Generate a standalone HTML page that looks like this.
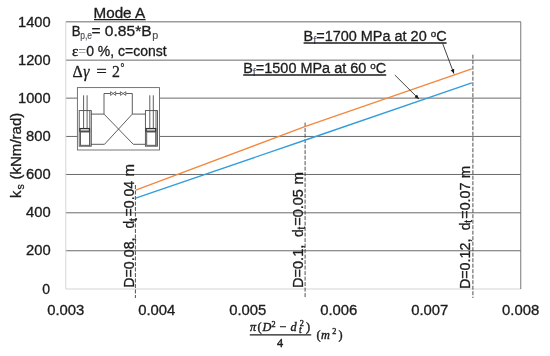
<!DOCTYPE html>
<html><head><meta charset="utf-8"><title>chart</title>
<style>
html,body{margin:0;padding:0;background:#fff;}
svg{display:block;}
text{font-family:"Liberation Sans",sans-serif;fill:#1c1c1c;stroke:#1c1c1c;stroke-width:0.3px;}
.m{font-family:"Liberation Serif",serif;font-style:italic;stroke-width:0.4px;}
.mr{font-family:"Liberation Serif",serif;font-style:normal;stroke-width:0.4px;}
</style></head><body>
<svg width="550" height="356" viewBox="0 0 550 356">
<rect x="0" y="0" width="550" height="356" fill="#ffffff"/>
<line x1="65.8" y1="21.84" x2="520.8" y2="21.84" stroke="#6a6a6a" stroke-width="1"/>
<line x1="65.8" y1="60.15" x2="520.8" y2="60.15" stroke="#6a6a6a" stroke-width="1"/>
<line x1="65.8" y1="98.13" x2="520.8" y2="98.13" stroke="#6a6a6a" stroke-width="1"/>
<line x1="65.8" y1="136.45" x2="520.8" y2="136.45" stroke="#6a6a6a" stroke-width="1"/>
<line x1="65.8" y1="174.48" x2="520.8" y2="174.48" stroke="#6a6a6a" stroke-width="1"/>
<line x1="65.8" y1="212.80" x2="520.8" y2="212.80" stroke="#6a6a6a" stroke-width="1"/>
<line x1="65.8" y1="250.76" x2="520.8" y2="250.76" stroke="#6a6a6a" stroke-width="1"/>
<line x1="65.8" y1="289.00" x2="520.8" y2="289.00" stroke="#d4d4d4" stroke-width="1"/>
<line x1="65.80" y1="21.85" x2="65.80" y2="289.00" stroke="#d6d6d6" stroke-width="1"/>
<line x1="520.75" y1="21.85" x2="520.75" y2="289.00" stroke="#787878" stroke-width="1"/>
<text x="18.0" y="26.55" font-size="14" textLength="32.6" lengthAdjust="spacingAndGlyphs">1400</text>
<text x="18.0" y="64.69" font-size="14" textLength="32.6" lengthAdjust="spacingAndGlyphs">1200</text>
<text x="18.0" y="102.83" font-size="14" textLength="32.6" lengthAdjust="spacingAndGlyphs">1000</text>
<text x="26.0" y="140.97" font-size="14" textLength="24.6" lengthAdjust="spacingAndGlyphs">800</text>
<text x="26.0" y="179.11" font-size="14" textLength="24.6" lengthAdjust="spacingAndGlyphs">600</text>
<text x="26.0" y="217.25" font-size="14" textLength="24.6" lengthAdjust="spacingAndGlyphs">400</text>
<text x="26.0" y="255.39" font-size="14" textLength="24.6" lengthAdjust="spacingAndGlyphs">200</text>
<text x="42.2" y="293.53" font-size="14">0</text>
<text x="47.2" y="314.6" font-size="14" textLength="37.2" lengthAdjust="spacingAndGlyphs">0.003</text>
<text x="138.2" y="314.6" font-size="14" textLength="37.2" lengthAdjust="spacingAndGlyphs">0.004</text>
<text x="229.2" y="314.6" font-size="14" textLength="37.2" lengthAdjust="spacingAndGlyphs">0.005</text>
<text x="320.2" y="314.6" font-size="14" textLength="37.2" lengthAdjust="spacingAndGlyphs">0.006</text>
<text x="411.2" y="314.6" font-size="14" textLength="37.2" lengthAdjust="spacingAndGlyphs">0.007</text>
<text x="502.1" y="314.6" font-size="14" textLength="37.2" lengthAdjust="spacingAndGlyphs">0.008</text>
<line x1="135.4" y1="185.0" x2="135.4" y2="298" stroke="#3c3c3c" stroke-width="0.9" stroke-dasharray="4 1.5"/>
<line x1="305.1" y1="122.6" x2="305.1" y2="298" stroke="#3c3c3c" stroke-width="0.9" stroke-dasharray="4 1.5"/>
<line x1="472.9" y1="54.7" x2="472.9" y2="298" stroke="#3c3c3c" stroke-width="0.9" stroke-dasharray="4 1.5"/>
<polyline points="135.7,190.1 305.5,126.4 471.8,68.8" fill="none" stroke="#f4873c" stroke-width="1.35"/>
<polyline points="135.7,198.1 305.5,140.0 471.8,82.8" fill="none" stroke="#329ddc" stroke-width="1.35"/>
<g transform="translate(134.1 287.7) rotate(-90)"><text x="0.0" y="0.0" font-size="14" textLength="50.2" lengthAdjust="spacingAndGlyphs">D=0.08,</text><text x="59.1" y="0.0" font-size="14">d</text><text x="66.7" y="2.4" font-size="10">t</text><text x="71.3" y="0.0" font-size="14" textLength="35.6" lengthAdjust="spacingAndGlyphs">=0.04</text><text x="111.1" y="0.0" font-size="14" textLength="12.6" lengthAdjust="spacingAndGlyphs">m</text></g>
<g transform="translate(302.8 288.0) rotate(-90)"><text x="0.0" y="0.0" font-size="14" textLength="43.3" lengthAdjust="spacingAndGlyphs">D=0.1,</text><text x="51.0" y="0.0" font-size="14">d</text><text x="58.6" y="2.4" font-size="10">t</text><text x="62.3" y="0.0" font-size="14" textLength="36.6" lengthAdjust="spacingAndGlyphs">=0.05</text><text x="103.4" y="0.0" font-size="14" textLength="12.6" lengthAdjust="spacingAndGlyphs">m</text></g>
<g transform="translate(470.0 289.1) rotate(-90)"><text x="0.0" y="0.0" font-size="14" textLength="50.6" lengthAdjust="spacingAndGlyphs">D=0.12,</text><text x="58.8" y="0.0" font-size="14">d</text><text x="66.4" y="2.4" font-size="10">t</text><text x="70.4" y="0.0" font-size="14" textLength="36.2" lengthAdjust="spacingAndGlyphs">=0.07</text><text x="110.8" y="0.0" font-size="14" textLength="12.6" lengthAdjust="spacingAndGlyphs">m</text></g>
<g transform="translate(21.2 198.0) rotate(-90)"><text x="0.0" y="0.0" font-size="14" textLength="7.4" lengthAdjust="spacingAndGlyphs">k</text><text x="8.6" y="2.4" font-size="10.5">s</text><text x="18.4" y="0.0" font-size="14" textLength="67.0" lengthAdjust="spacingAndGlyphs">(kNm/rad)</text></g>
<text x="93.5" y="18.3" font-size="14" textLength="51.6" lengthAdjust="spacingAndGlyphs">Mode A</text>
<line x1="94" y1="19.6" x2="145.6" y2="19.6" stroke="#1c1c1c" stroke-width="1.1"/>
<text x="71.8" y="36.4" font-size="14" textLength="8.8" lengthAdjust="spacingAndGlyphs">B</text><text x="80.2" y="39" font-size="10" textLength="11.8" lengthAdjust="spacingAndGlyphs" style="fill:#474c54;stroke-width:0.15px;stroke:#474c54">p,e</text><text x="91.4" y="36.4" font-size="14" textLength="60.2" lengthAdjust="spacingAndGlyphs">= 0.85*B</text><text x="152.2" y="39" font-size="10" textLength="6" lengthAdjust="spacingAndGlyphs" style="fill:#474c54;stroke-width:0.15px;stroke:#474c54">p</text>
<text x="72" y="56" font-size="14" textLength="94.6" lengthAdjust="spacingAndGlyphs"><tspan class="mr" font-size="15">ε</tspan><tspan class="mr" style="fill:#6a6a6a;stroke:none">=</tspan>0 %, c=const</text>
<text x="72.6" y="77.1" font-size="15.8" class="mr" style="stroke-width:0.3px">Δ</text><text x="83.2" y="77.1" font-size="15.8" class="m" style="stroke-width:0.3px">γ</text><text x="96.2" y="77.1" font-size="15.8" class="mr" textLength="10.6" lengthAdjust="spacingAndGlyphs" style="stroke-width:0.3px">=</text><text x="112" y="77.1" font-size="15.8" class="mr" style="stroke-width:0.3px">2</text><text x="120.6" y="70.6" font-size="9.5" class="mr" style="stroke-width:0.3px">°</text>
<text x="303.6" y="40.5" font-size="14" textLength="143.0" lengthAdjust="spacingAndGlyphs">B<tspan font-size="10.5" dy="3" style="fill:#566170;stroke:#566170;stroke-width:0.15px">f</tspan><tspan dy="-3">=1700 MPa at 20 <tspan font-size="9.5" dy="-4">o</tspan><tspan dy="4">C</tspan></tspan></text>
<line x1="303.6" y1="43.0" x2="446.6" y2="43.0" stroke="#1c1c1c" stroke-width="1.3"/>
<text x="243.2" y="72.5" font-size="14" textLength="143.0" lengthAdjust="spacingAndGlyphs">B<tspan font-size="10.5" dy="3" style="fill:#566170;stroke:#566170;stroke-width:0.15px">f</tspan><tspan dy="-3">=1500 MPa at 60 <tspan font-size="9.5" dy="-4">o</tspan><tspan dy="4">C</tspan></tspan></text>
<line x1="243.2" y1="75.0" x2="386.2" y2="75.0" stroke="#1c1c1c" stroke-width="1.3"/>
<defs><marker id="ah" viewBox="0 0 10 10" refX="9.5" refY="5" markerUnits="userSpaceOnUse" markerWidth="4.6" markerHeight="4.6" orient="auto"><path d="M0,0.8 L10,5 L0,9.2 z" fill="#1c1c1c"/></marker></defs>
<line x1="442.6" y1="43.4" x2="453.9" y2="73.5" stroke="#222" stroke-width="0.85" marker-end="url(#ah)"/>
<line x1="394.8" y1="75" x2="418.8" y2="98.9" stroke="#222" stroke-width="0.85" marker-end="url(#ah)"/>
<text x="249.9" y="331.3" font-size="12.3" class="m">π</text><text x="257.4" y="331.0" font-size="12.3" class="mr">(</text><text x="262.6" y="331.3" font-size="12.3" class="m">D</text><text x="271.4" y="326.5" font-size="8.2" class="mr">2</text><text x="279.8" y="331.3" font-size="12.3" class="mr">−</text><text x="290.4" y="331.3" font-size="12.3" class="m">d</text><text x="299.8" y="325.6" font-size="8.2" class="mr">2</text><text x="299.0" y="332.8" font-size="9.4" class="m">t</text><text x="306.0" y="331.0" font-size="12.3" class="mr">)</text>
<line x1="249.8" y1="334.9" x2="311.2" y2="334.9" stroke="#1c1c1c" stroke-width="1.1"/>
<text x="276.9" y="347.3" font-size="12.3" class="mr">4</text><text x="316.6" y="339.0" font-size="12.3" class="mr">(</text><text x="321.0" y="339.0" font-size="12.3" class="m">m</text><text x="332.2" y="334.3" font-size="8.2" class="mr">2</text><text x="338.6" y="339.0" font-size="12.3" class="mr">)</text>
<g id="inset" fill="none" stroke="#4c4c4c" stroke-width="0.9">
<rect x="77.4" y="87.6" width="82.1" height="62.4" fill="#fff" stroke="#666"/>
<polyline points="91,114.1 104,114.1 133.3,144.3 145.3,144.3"/>
<polyline points="145.3,114.1 132.3,114.1 104.5,144.3 91,144.3"/>
<polyline points="104,114.1 104,93.5 110.4,93.5"/>
<polyline points="132.3,114.1 132.3,93.5 126,93.5"/>
<line x1="115.8" y1="93.5" x2="120.2" y2="93.5"/>
<path d="M110.6,91.7 L110.6,95.4 L115.7,91.7 L115.7,95.4 Z" stroke-width="0.8"/>
<path d="M120.4,91.7 L120.4,95.4 L125.8,91.7 L125.8,95.4 Z" stroke-width="0.8"/>
<rect x="79.2" y="110.6" width="12.1" height="35.6"/>
<line x1="89.8" y1="110.6" x2="89.8" y2="146.2"/>
<line x1="83.6" y1="95.3" x2="83.6" y2="128"/>
<line x1="87.1" y1="95.3" x2="87.1" y2="128"/>
<rect x="79.9" y="128.6" width="9.6" height="2.6" stroke="#333" stroke-width="1.3"/>
<rect x="80.5" y="132" width="9.2" height="13.3"/>
<rect x="145.4" y="110.6" width="12.1" height="35.6"/>
<line x1="156.0" y1="110.6" x2="156.0" y2="146.2"/>
<line x1="149.8" y1="95.3" x2="149.8" y2="128"/>
<line x1="153.3" y1="95.3" x2="153.3" y2="128"/>
<rect x="146.1" y="128.6" width="9.6" height="2.6" stroke="#333" stroke-width="1.3"/>
<rect x="146.7" y="132" width="9.2" height="13.3"/>
</g>
</svg>
</body></html>
